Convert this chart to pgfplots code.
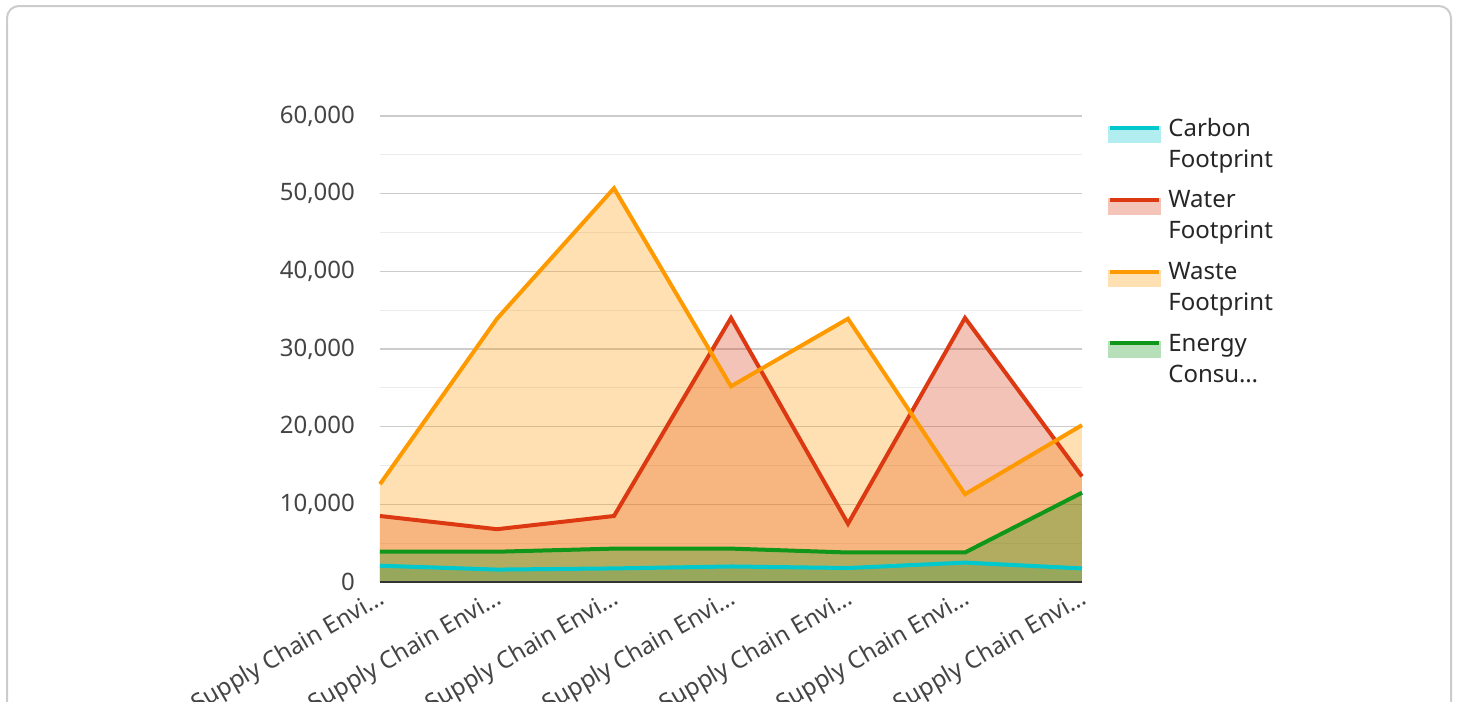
\documentclass[border=0pt]{standalone}
\usepackage{fontspec}
\setmainfont{Noto Sans}
\usepackage{pgfplots}
\pgfplotsset{compat=1.18}
\definecolor{ccarbon}{RGB}{0,200,205}
\definecolor{cwater}{RGB}{220,57,18}
\definecolor{cwaste}{RGB}{255,153,0}
\definecolor{cenergy}{RGB}{16,150,24}
\definecolor{tickgray}{RGB}{68,68,68}
\pgfplotsset{
  myleg/.style={legend image code/.code={
    \fill[#1!30] (-1.5pt,0.5pt) rectangle (23pt,7pt);
    \draw[#1, line width=2pt] (-1.5pt,7pt) -- (23pt,7pt);
    \path (25.5pt,7pt);
  }},
  myfill/.style={draw=none, fill=#1, fill opacity=0.3, forget plot},
  myline/.style={color=#1, line width=2pt, myleg=#1},
}
\newcommand{\two}[2]{\begin{tabular}[b]{@{}l@{}}#1\\#2\end{tabular}}
\begin{document}
\begin{tikzpicture}
\useasboundingbox (0,0) rectangle (729pt,-351pt);
\clip (0,0) rectangle (729pt,-351pt);
\draw[color=black!20, line width=1pt, rounded corners=6pt] (3.5pt,-3pt) rectangle (725.5pt,-360pt);
\begin{axis}[
  at={(190pt,-291pt)}, anchor=south west,
  scale only axis, width=351pt, height=233pt,
  xmin=0, xmax=6, ymin=0, ymax=60000,
  xtick={0,...,6},
  xticklabels={Supply Chain Envi…,Supply Chain Envi…,Supply Chain Envi…,Supply Chain Envi…,Supply Chain Envi…,Supply Chain Envi…,Supply Chain Envi…},
  ytick={0,10000,...,60000},
  minor ytick={5000,15000,...,55000},
  scaled y ticks=false,
  /pgf/number format/.cd, 1000 sep={,}, assume math mode=true, /pgfplots/.cd,
  major tick length=0pt, minor tick length=0pt,
  axis line style={draw=none},
  ymajorgrids, yminorgrids,
  major grid style={color=black!20, line width=0.6pt},
  minor grid style={color=black!8, line width=0.6pt},
  tick label style={font=\fontsize{12}{14}\selectfont, text=tickgray},
  yticklabel style={xshift=-9pt},
  xticklabel style={rotate=30, anchor=east, yshift=-7.5pt, xshift=1pt},
  legend style={at={(1,1)}, anchor=north west, xshift=10pt, yshift=4pt, draw=none, fill=none,
     font=\fontsize{12}{15.5}\selectfont, text=black!85, row sep=6pt,
     nodes={inner sep=1pt}},
  legend cell align=left,
  clip=false,
]
% fills
\addplot[myfill=ccarbon] coordinates {(0,2100) (1,1600) (2,1750) (3,2000) (4,1800) (5,2500) (6,1750)} \closedcycle;
\addplot[myfill=cwater] coordinates {(0,8500) (1,6800) (2,8500) (3,34000) (4,7500) (5,34000) (6,13600)} \closedcycle;
\addplot[myfill=cwaste] coordinates {(0,12600) (1,33900) (2,50700) (3,25200) (4,33900) (5,11300) (6,20200)} \closedcycle;
\addplot[myfill=cenergy] coordinates {(0,3900) (1,3900) (2,4300) (3,4300) (4,3800) (5,3800) (6,11500)} \closedcycle;
% baseline
\draw[color=black!80, line width=1pt] (axis cs:0,0) -- (axis cs:6,0);
% lines
\addplot[myline=ccarbon] coordinates {(0,2100) (1,1600) (2,1750) (3,2000) (4,1800) (5,2500) (6,1750)};
\addlegendentry{\two{Carbon}{Footprint}}
\addplot[myline=cwater] coordinates {(0,8500) (1,6800) (2,8500) (3,34000) (4,7500) (5,34000) (6,13600)};
\addlegendentry{\two{Water}{Footprint}}
\addplot[myline=cwaste] coordinates {(0,12600) (1,33900) (2,50700) (3,25200) (4,33900) (5,11300) (6,20200)};
\addlegendentry{\two{Waste}{Footprint}}
\addplot[myline=cenergy] coordinates {(0,3900) (1,3900) (2,4300) (3,4300) (4,3800) (5,3800) (6,11500)};
\addlegendentry{\two{Energy}{Consu…}}
\end{axis}
\end{tikzpicture}
\end{document}
